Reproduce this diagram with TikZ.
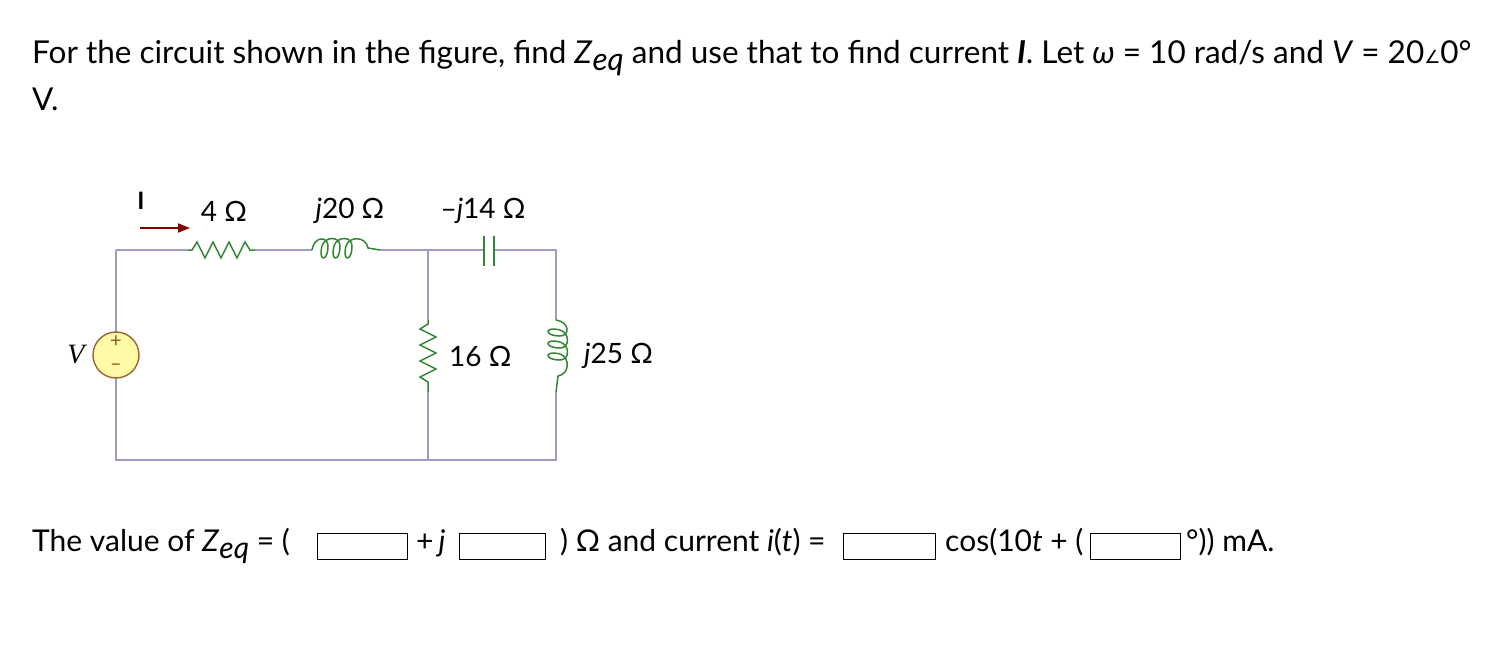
\documentclass[tikz,border=0pt]{standalone}
\usepackage{fontspec}
\setmainfont{Lato}
\newfontfamily\djv{DejaVu Sans}
\usetikzlibrary{arrows.meta}
\begin{document}
\begin{tikzpicture}[x=1pt,y=-1pt,
 wire/.style={draw=gray!70!blue!60, line width=1.8pt},
 comp/.style={draw=green!40!black!80, line width=1.5pt},
 lbl/.style={font=\fontsize{28}{30}\selectfont, inner sep=0pt},
 txt/.style={font=\fontsize{31.5}{34}\selectfont, inner sep=0pt, anchor=base west},
 btxt/.style={font=\fontsize{30}{34}\selectfont, inner sep=0pt, anchor=base west},
 abox/.style={draw=black, line width=1pt, minimum width=90pt, minimum height=26pt, inner sep=0pt}]
\useasboundingbox (0,0) rectangle (1498,654);
% text
\node[txt] (t1) at (32,63) {For the circuit shown in the figure, find \textit{Z}\raisebox{-7pt}{\textit{eq}} and use that to find current \textbf{\textit{I}}. Let \textit{ω} = 10 rad/s and \textit{V} = 20{\djv\fontsize{18}{20}\selectfont∠}0°};
\node[txt] (t2) at (32,110) {V.};
% coordinates
\coordinate (tl) at (116,250); \coordinate (bl) at (116,460);
\coordinate (tm) at (428,250); \coordinate (bm) at (428,460);
\coordinate (tr) at (556,250); \coordinate (br) at (556,460);
% wires
\draw[wire] (tl) -- (116,332) (116,378) -- (bl) -- (bm) -- (br) -- (556,392);
\draw[wire] (tl) -- (188,250) (255,250) -- (312,250) (380,250) -- (tm) -- (484,250) (494,250) -- (tr) -- (556,320);
\draw[wire] (tm) -- (428,320) (428,392) -- (bm);
% 4 ohm resistor
\draw[comp] (188,250) -- (192,250) -- (197,242) -- (205,258) -- (213,242) -- (221,258) -- (229,242) -- (237,258) -- (245,242) -- (250,250) -- (255,250);
% 16 ohm resistor
\draw[comp] (428,320) -- (428,324) -- (420,329) -- (436,337) -- (420,345) -- (436,353) -- (420,361) -- (436,369) -- (420,377) -- (428,382) -- (428,392);
% j20 inductor
\draw[comp] (312,250) .. controls (314,236) and (328,236) .. (328,246) .. controls (328,262) and (318,262) .. (322,246)
 .. controls (325,236) and (340,236) .. (340,246) .. controls (340,262) and (330,262) .. (334,246)
 .. controls (337,236) and (352,236) .. (352,246) .. controls (352,262) and (342,262) .. (346,246)
 .. controls (349,236) and (366,236) .. (368,248) -- (380,250);
% j25 inductor
\draw[comp] (556,320) .. controls (570,322) and (570,336) .. (560,336) .. controls (544,336) and (544,326) .. (560,330)
 .. controls (570,333) and (570,348) .. (560,348) .. controls (544,348) and (544,338) .. (560,342)
 .. controls (570,345) and (570,360) .. (560,360) .. controls (544,360) and (544,350) .. (560,354)
 .. controls (570,357) and (570,374) .. (558,376) -- (556,392);
% capacitor
\draw[comp] (484,236) -- (484,266) (494,236) -- (494,266);
% source
\node[circle, draw=brown!80!black, fill=yellow!35!white, line width=1.4pt, minimum size=46pt, inner sep=0pt] (src) at (116,355) {};
\node[font=\fontsize{20}{20}\selectfont, inner sep=0pt, text=brown!70!black] (plus) at (116,342) {+};
\node[font=\fontsize{20}{20}\selectfont, inner sep=0pt, text=brown!70!black] (minus) at (116,367) {–};
\node[inner sep=0pt] (vl) at (76,355) {\fontspec{Liberation Serif}\fontsize{28}{28}\selectfont\itshape V};
% arrow
\coordinate (a1) at (140,228); \coordinate (a2) at (190,228);
\draw[draw=red!50!black, line width=1.8pt, -{Triangle[length=12pt,width=9pt]}] (a1) -- (a2);
\node[lbl, font=\fontsize{24}{24}\selectfont\bfseries] (il) at (141,201) {I};
% labels
\node[lbl] (l4) at (224,211) {4 Ω};
\node[lbl] (l20) at (350,211) {\textit{j}20 Ω};
\node[lbl] (l14) at (483,211) {–\textit{j}14 Ω};
\node[lbl, anchor=west] (l16) at (449,356) {16 Ω};
\node[lbl, anchor=west] (l25) at (584,356) {\textit{j}25 Ω};
% bottom line
\node[btxt] (b1) at (32,551) {The value of \textit{Z}\raisebox{-7pt}{\textit{eq}} = (};
\node[abox] (x1) at (362,546) {};
\node[btxt] (b2) at (416,551) {+\,\textit{j}};
\node[abox, minimum width=86pt] (x2) at (502,546) {};
\node[btxt] (b3) at (560,551) {) Ω and current \textit{i}(\textit{t}) =};
\node[abox, minimum width=92pt] (x3) at (889,546) {};
\node[btxt] (b4) at (945,551) {cos(10\textit{t} + (};
\node[abox] (x4) at (1135,546) {};
\node[btxt] (b5) at (1186,551) {°)) mA.};
\end{tikzpicture}
\end{document}
